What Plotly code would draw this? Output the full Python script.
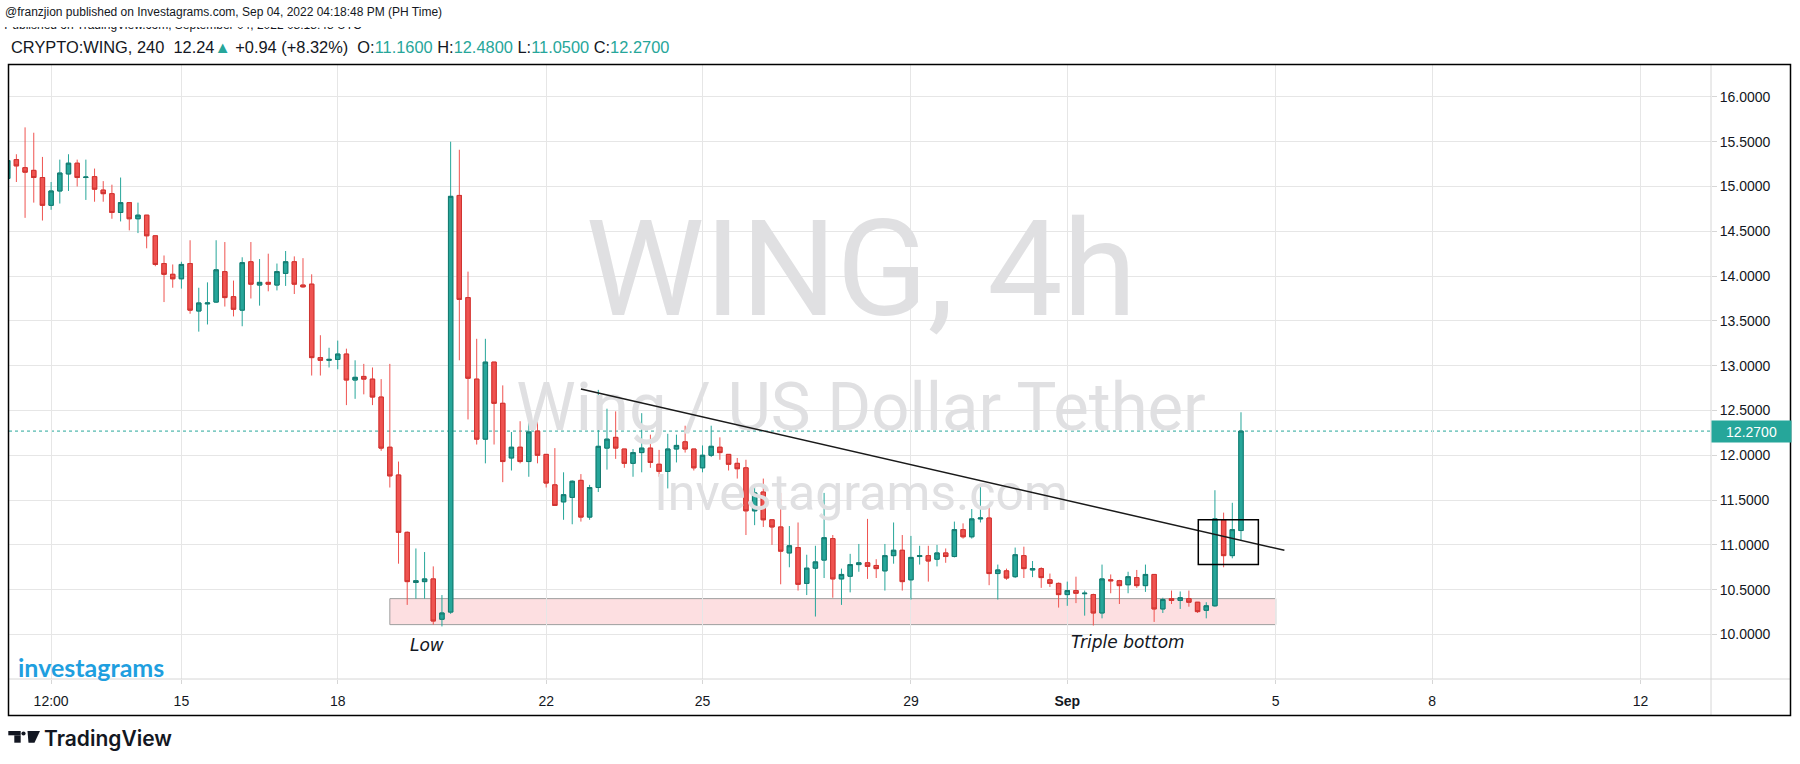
import numpy as np
import pandas as pd
import plotly.graph_objects as go

# ---------------- data (4h candles, CRYPTO:WING) ----------------
start_time = "2022-08-11 16:00"

opens = [15.09, 15.30, 15.21, 15.18, 15.10, 14.79, 14.95, 15.14, 15.26, 15.10,
         15.11, 14.96, 14.92, 14.71, 14.82, 14.64, 14.68, 14.45, 14.14, 14.02,
         13.97, 14.14, 13.61, 13.69, 13.71, 14.05, 13.77, 13.62, 14.16, 13.90,
         13.93, 13.90, 14.03, 14.16, 13.90, 13.91, 13.09, 13.06, 13.07, 13.13,
         12.84, 12.88, 12.85, 12.65, 12.09, 11.78, 11.14, 10.58, 10.59, 10.62,
         10.17, 10.25, 14.90, 13.76, 12.85, 12.18, 13.04, 12.58, 11.97, 12.09,
         11.93, 12.27, 12.01, 11.67, 11.48, 11.53, 11.72, 11.31, 11.64, 12.08,
         12.20, 12.07, 11.91, 12.03, 12.08, 11.90, 11.82, 12.07, 12.15, 12.07,
         11.86, 12.00, 12.09, 12.01, 11.91, 11.86, 11.38, 11.59, 11.28, 11.20,
         10.91, 10.97, 10.57, 10.74, 10.83, 11.07, 10.62, 10.65, 10.78, 10.80,
         10.77, 10.71, 10.88, 10.94, 10.61, 10.87, 10.88, 10.84, 10.91, 10.87,
         11.17, 11.09, 11.29, 11.30, 10.68, 10.71, 10.645, 10.88, 10.72, 10.735,
         10.61, 10.57, 10.445, 10.49, 10.455, 10.445, 10.24, 10.61, 10.60, 10.555,
         10.635, 10.545, 10.67, 10.285, 10.40, 10.38, 10.40, 10.36, 10.27, 10.32,
         11.28, 10.88, 11.16]

highs = [15.33, 15.36, 15.66, 15.60, 15.33, 15.05, 15.30, 15.36, 15.30, 15.30,
         15.20, 15.06, 15.02, 15.10, 14.82, 14.82, 14.68, 14.45, 14.23, 14.13,
         14.16, 14.40, 13.87, 13.93, 14.40, 14.38, 13.95, 14.21, 14.38, 14.19,
         14.25, 14.14, 14.28, 14.22, 14.20, 14.02, 13.34, 13.20, 13.28, 13.19,
         13.06, 13.02, 12.98, 12.85, 13.02, 11.93, 11.15, 10.96, 10.92, 10.76,
         10.44, 15.50, 15.41, 14.05, 13.30, 13.30, 13.04, 12.78, 12.26, 12.38,
         12.46, 12.40, 12.01, 12.08, 11.81, 11.72, 11.79, 11.67, 12.73, 12.52,
         12.49, 12.07, 12.07, 12.47, 12.23, 12.06, 12.24, 12.23, 12.33, 12.07,
         12.11, 12.33, 12.20, 12.01, 11.97, 11.95, 11.66, 11.74, 11.28, 11.58,
         11.21, 11.25, 10.89, 10.99, 11.58, 11.11, 10.735, 10.90, 11.01, 11.29,
         10.84, 11.01, 11.25, 11.11, 11.10, 10.99, 10.99, 11.00, 10.96, 11.26,
         11.24, 11.40, 11.67, 11.42, 10.78, 10.735, 10.97, 10.98, 10.82, 10.75,
         10.68, 10.58, 10.59, 10.645, 10.49, 10.455, 10.78, 10.67, 10.61, 10.70,
         10.72, 10.78, 10.67, 10.41, 10.49, 10.48, 10.49, 10.36, 10.36, 11.61,
         11.36, 11.47, 12.48]

lows = [15.05, 15.05, 14.65, 14.82, 14.62, 14.74, 14.81, 14.95, 15.00, 14.85,
        14.83, 14.83, 14.64, 14.61, 14.51, 14.48, 14.31, 14.11, 13.71, 13.87,
        13.86, 13.58, 13.38, 13.46, 13.70, 13.66, 13.55, 13.44, 13.75, 13.67,
        13.83, 13.84, 13.89, 13.80, 13.87, 12.89, 12.89, 12.98, 12.96, 12.56,
        12.63, 12.68, 12.56, 12.05, 11.64, 10.79, 10.33, 10.40, 10.40, 10.11,
        10.09, 10.23, 13.06, 12.40, 12.12, 11.91, 12.12, 11.70, 11.83, 11.91,
        11.76, 11.91, 11.64, 11.44, 11.28, 11.23, 11.26, 11.28, 11.59, 11.84,
        11.96, 11.86, 11.76, 11.81, 11.86, 11.76, 11.63, 11.92, 12.03, 11.83,
        11.81, 11.98, 11.95, 11.83, 11.74, 11.11, 11.22, 11.20, 11.00, 10.56,
        10.75, 10.49, 10.44, 10.20, 10.63, 10.41, 10.33, 10.47, 10.70, 10.62,
        10.63, 10.49, 10.79, 10.49, 10.39, 10.78, 10.59, 10.76, 10.80, 10.86,
        11.07, 11.07, 11.25, 10.55, 10.39, 10.61, 10.63, 10.63, 10.64, 10.52,
        10.53, 10.30, 10.32, 10.35, 10.21, 10.10, 10.18, 10.46, 10.34, 10.46,
        10.52, 10.475, 10.14, 10.24, 10.34, 10.285, 10.31, 10.24, 10.18, 10.31,
        10.75, 10.85, 11.05]

closes = [15.29, 15.23, 15.16, 15.10, 14.79, 14.95, 15.15, 15.26, 15.10, 15.105,
          14.97, 14.92, 14.71, 14.82, 14.64, 14.68, 14.45, 14.13, 14.02, 13.97,
          14.13, 13.62, 13.70, 13.70, 14.07, 13.76, 13.63, 14.15, 13.91, 13.93,
          13.91, 14.05, 14.16, 13.91, 13.88, 13.09, 13.06, 13.07, 13.13, 12.84,
          12.87, 12.85, 12.65, 12.08, 11.77, 11.14, 10.59, 10.60, 10.62, 10.15,
          10.24, 14.89, 13.74, 12.86, 12.18, 13.04, 12.58, 11.93, 12.09, 11.93,
          12.26, 12.00, 11.69, 11.44, 11.56, 11.71, 11.31, 11.64, 12.10, 12.18,
          12.08, 11.91, 12.03, 12.08, 11.92, 11.82, 12.07, 12.11, 12.07, 11.86,
          12.00, 12.10, 12.03, 11.90, 11.85, 11.38, 11.58, 11.28, 11.20, 10.93,
          10.99, 10.56, 10.74, 10.81, 11.08, 10.62, 10.67, 10.78, 10.80, 10.76,
          10.735, 10.88, 10.94, 10.59, 10.86, 10.88, 10.82, 10.91, 10.87, 11.17,
          11.09, 11.29, 11.30, 10.68, 10.72, 10.63, 10.89, 10.735, 10.735, 10.635,
          10.57, 10.445, 10.49, 10.46, 10.46, 10.24, 10.62, 10.60, 10.545, 10.645,
          10.545, 10.67, 10.285, 10.39, 10.38, 10.41, 10.36, 10.255, 10.32, 11.29,
          10.88, 11.17, 12.27]

x_tick_dates = ["2022-08-12 12:00", "2022-08-15", "2022-08-18", "2022-08-22",
                "2022-08-25", "2022-08-29", "2022-09-01", "2022-09-05",
                "2022-09-08", "2022-09-12"]
x_tick_labels = ["12:00", "15", "18", "22", "25", "29", "<b>Sep</b>", "5", "8", "12"]
y_tick_values = [10.0, 10.5, 11.0, 11.5, 12.0, 12.5, 13.0, 13.5, 14.0, 14.5,
                 15.0, 15.5, 16.0]
y_tick_labels = [f"{v:.4f}" for v in y_tick_values]

last_price = 12.27
support_zone = dict(t0="2022-08-19 00:00", t1="2022-09-05 00:00", low=10.11, high=10.40)
trend_line = dict(t0="2022-08-22 16:00", p0=12.74, t1="2022-09-05 04:00", p1=10.94)
breakout_box = dict(t0="2022-09-03 12:20", t1="2022-09-04 16:00", low=10.78, high=11.28)

# ---------------- styling ----------------
W, H = 1800, 764
TEAL, RED = "#26a69a", "#ef5350"
TEAL_EDGE, RED_EDGE = "#16796f", "#cf3431"
GRID = "#e6e6e6"
TXT = "#131722"
SEP = "#d6d6d6"


def PX(x):
    return x / W


def PY(y):
    return 1 - y / H


times = pd.date_range(start_time, periods=len(opens), freq="4h")
o = np.array(opens)
c = np.array(closes)

fig = go.Figure()

# watermarks (drawn first -> behind candles)
wm_time = "2022-08-28 01:00"
for txt, price, size in [("WING, 4h", 13.94, 134),
                         ("Wing / US Dollar Tether", 12.47, 67),
                         ("Investagrams.com", 11.53, 50)]:
    fig.add_trace(go.Scatter(x=[wm_time], y=[price], mode="text", text=[txt],
                             textposition="middle center", cliponaxis=False,
                             textfont=dict(family="Roboto", size=size, color="#e0e0e2"),
                             hoverinfo="skip", showlegend=False))

# wicks (light colour)
fig.add_trace(go.Candlestick(
    x=times, open=opens, high=highs, low=lows, close=closes,
    increasing=dict(line=dict(color=TEAL, width=1), fillcolor=TEAL),
    decreasing=dict(line=dict(color=RED, width=1), fillcolor=RED),
    whiskerwidth=0, showlegend=False, hoverinfo="skip"))
# bodies with darker outline
fig.add_trace(go.Candlestick(
    x=times, open=opens, high=np.maximum(o, c), low=np.minimum(o, c), close=closes,
    increasing=dict(line=dict(color=TEAL_EDGE, width=1), fillcolor=TEAL),
    decreasing=dict(line=dict(color=RED_EDGE, width=1), fillcolor=RED),
    whiskerwidth=0, showlegend=False, hoverinfo="skip"))

# clipped second header line (only its lower part is visible)
fig.add_trace(go.Scatter(x=[0.004], y=[1.1], mode="text",
                         text=["Published on TradingView.com, September 04, 2022 08:18:48 UTC"],
                         textposition="middle right", cliponaxis=True,
                         textfont=dict(family="Liberation Sans", size=12, color=TXT),
                         xaxis="x2", yaxis="y2", hoverinfo="skip", showlegend=False))

fig.update_layout(
    width=W, height=H, margin=dict(l=0, r=0, t=0, b=0, pad=0),
    paper_bgcolor="white", plot_bgcolor="white", showlegend=False,
    boxgap=0.28,
    xaxis=dict(domain=[PX(9), PX(1711)], anchor="y", type="date",
               range=["2022-08-11 16:36", "2022-09-13 08:28"],
               rangeslider=dict(visible=False),
               tickvals=x_tick_dates, ticktext=x_tick_labels,
               showgrid=True, gridcolor=GRID, gridwidth=1,
               ticks="outside", ticklen=4, tickcolor=SEP,
               tickfont=dict(family="Liberation Sans", size=14, color=TXT),
               ticklabelstandoff=5,
               showline=False, zeroline=False, fixedrange=True),
    yaxis=dict(domain=[PY(679), PY(65)], anchor="x", side="right",
               range=[9.503, 16.356],
               tickvals=y_tick_values, ticktext=y_tick_labels,
               showgrid=True, gridcolor=GRID, gridwidth=1,
               ticks="outside", ticklen=5, tickcolor=SEP,
               tickfont=dict(family="Liberation Sans", size=14, color=TXT),
               showline=False, zeroline=False, fixedrange=True),
    xaxis2=dict(domain=[0, 0.6], anchor="y2", range=[0, 1], visible=False, fixedrange=True),
    yaxis2=dict(domain=[PY(32.5), PY(27)], anchor="x2", range=[0, 1], visible=False,
                fixedrange=True),
)

shapes = []
# support zone
shapes.append(dict(type="rect", xref="x", yref="y",
                   x0=support_zone["t0"], x1=support_zone["t1"],
                   y0=support_zone["low"], y1=support_zone["high"],
                   fillcolor="rgba(242,54,69,0.16)", line=dict(color="#9e9e9e", width=1),
                   layer="below"))
# trend line
shapes.append(dict(type="line", xref="x", yref="y",
                   x0=trend_line["t0"], y0=trend_line["p0"],
                   x1=trend_line["t1"], y1=trend_line["p1"],
                   line=dict(color="#1a1a1a", width=1.5), layer="above"))
# breakout box
shapes.append(dict(type="rect", xref="x", yref="y",
                   x0=breakout_box["t0"], x1=breakout_box["t1"],
                   y0=breakout_box["low"], y1=breakout_box["high"],
                   line=dict(color="#000000", width=1.5), layer="above"))
# last price dotted line
shapes.append(dict(type="line", xref="paper", yref="y", x0=PX(9), x1=PX(1711),
                   y0=last_price, y1=last_price,
                   line=dict(color=TEAL, width=1, dash="dot"), layer="below"))
# separators
shapes.append(dict(type="line", xref="paper", yref="paper", x0=PX(1711), x1=PX(1711),
                   y0=PY(715), y1=PY(65), line=dict(color=SEP, width=1)))
shapes.append(dict(type="line", xref="paper", yref="paper", x0=PX(9), x1=PX(1790),
                   y0=PY(679), y1=PY(679), line=dict(color=SEP, width=1)))
# outer frame
shapes.append(dict(type="rect", xref="paper", yref="paper", x0=PX(8.5), x1=PX(1790.5),
                   y0=PY(715.5), y1=PY(64.5), line=dict(color="#000000", width=1.5)))
# TradingView logo mark
dark = "#131722"
shapes.append(dict(type="rect", xref="paper", yref="paper", x0=PX(8.3), x1=PX(20.7),
                   y0=PY(735.3), y1=PY(731), fillcolor=dark, line=dict(width=0)))
shapes.append(dict(type="rect", xref="paper", yref="paper", x0=PX(14.3), x1=PX(20.7),
                   y0=PY(742.7), y1=PY(735.3), fillcolor=dark, line=dict(width=0)))
shapes.append(dict(type="circle", xref="paper", yref="paper", x0=PX(21.4), x1=PX(25.6),
                   y0=PY(735.6), y1=PY(731.4), fillcolor=dark, line=dict(width=0)))
path = "M {:.5f},{:.5f} L {:.5f},{:.5f} L {:.5f},{:.5f} L {:.5f},{:.5f} Z".format(
    PX(27.5), PY(731), PX(40), PY(731), PX(34.5), PY(742.7), PX(28.5), PY(742.7))
shapes.append(dict(type="path", xref="paper", yref="paper", path=path,
                   fillcolor=dark, line=dict(width=0)))
fig.update_layout(shapes=shapes)

ann = []
ann.append(dict(xref="paper", yref="paper", x=PX(3), y=PY(11.5), xanchor="left",
                yanchor="middle", showarrow=False,
                text="@franzjion published on Investagrams.com, Sep 04, 2022 04:18:48 PM (PH Time)",
                font=dict(family="Liberation Sans", size=12, color=TXT)))
tc = lambda s: f"<span style='color:{TEAL}'>{s}</span>"
header = ("CRYPTO:WING, 240  12.24" + tc("▲") + " +0.94 (+8.32%)  O:" + tc("11.1600") +
          " H:" + tc("12.4800") + " L:" + tc("11.0500") + " C:" + tc("12.2700"))
ann.append(dict(xref="paper", yref="paper", x=PX(9), y=PY(47), xanchor="left",
                yanchor="middle", showarrow=False, text=header,
                font=dict(family="Liberation Sans", size=16.4, color=TXT)))
ann.append(dict(xref="paper", yref="paper", x=PX(16), y=PY(667), xanchor="left",
                yanchor="middle", showarrow=False, text="investagrams",
                font=dict(family="Lato", size=25, color="#1f9fdf", weight="bold")))
ann.append(dict(xref="paper", yref="paper", x=PX(42), y=PY(738), xanchor="left",
                yanchor="middle", showarrow=False, text="TradingView",
                font=dict(family="Inter", size=21, color=dark, weight=600)))
ann.append(dict(xref="paper", yref="y", x=PX(1711), y=last_price, xanchor="left",
                yanchor="middle", showarrow=False, text="12.2700",
                bgcolor=TEAL, width=79, height=21, borderpad=0,
                font=dict(family="Liberation Sans", size=14, color="white")))
ann.append(dict(xref="x", yref="y", x="2022-08-19 17:00", y=9.88, showarrow=False,
                text="Low", xanchor="center", yanchor="middle",
                font=dict(family="DejaVu Sans", size=17, color=TXT, style="italic")))
ann.append(dict(xref="x", yref="y", x="2022-09-02 04:10", y=9.92, showarrow=False,
                text="Triple bottom", xanchor="center", yanchor="middle",
                font=dict(family="DejaVu Sans", size=17, color=TXT, style="italic")))
fig.update_layout(annotations=ann)

fig.write_html("out.html", config={"displayModeBar": False})
